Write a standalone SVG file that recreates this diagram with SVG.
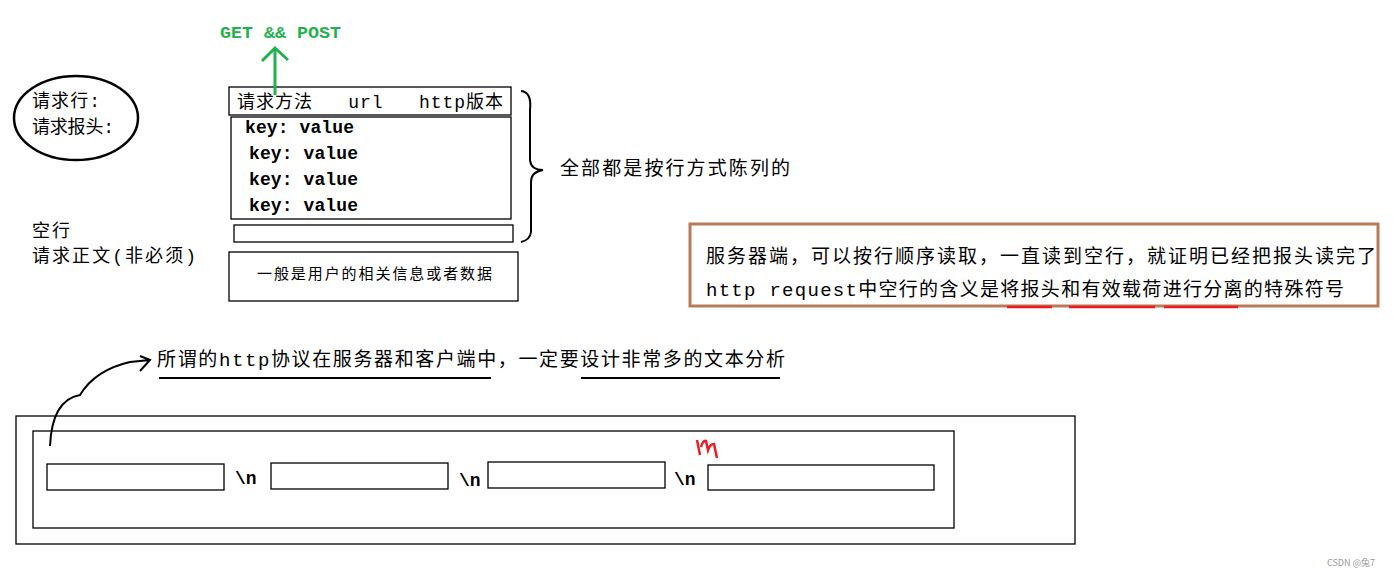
<svg xmlns="http://www.w3.org/2000/svg" width="1394" height="577" viewBox="0 0 1394 577">
<style>
.t{font-family:"Liberation Mono","Noto Sans CJK SC",monospace;fill:#000;font-weight:normal}
.b{fill:none;stroke:#000;stroke-width:1.3}
.ln{fill:none;stroke:#000;stroke-width:2}
</style>
<rect width="1394" height="577" fill="#fff"/>
<g id="method-note">
<text x="220" y="38" class="t" style="fill:#22b14c;font-size:17px;font-weight:bold" textLength="121" lengthAdjust="spacingAndGlyphs">GET &amp;&amp; POST</text>
</g>
<g id="legend">
<ellipse cx="76" cy="118" rx="62" ry="42" fill="none" stroke="#000" stroke-width="2.5"/>
<text x="32" y="107" class="t" style="font-size:18px" textLength="68">请求行:</text>
<text x="32" y="133" class="t" style="font-size:18px" textLength="82">请求报头:</text>
<text x="32" y="237" class="t" style="font-size:18px" textLength="38">空行</text>
<text x="32" y="262" class="t" style="font-size:18px" textLength="164">请求正文(非必须)</text>
</g>
<g id="request-line">
<rect x="229" y="87" width="282" height="28" class="b"/>
<text x="237" y="108" class="t" style="font-size:18px" xml:space="preserve" textLength="266">请求方法   url   http版本</text>
</g>
<g id="headers">
<rect x="231" y="117" width="280" height="102" class="b"/>
<text x="245" y="133" class="t" style="font-size:18px;font-weight:bold" textLength="109">key: value</text>
<text x="249" y="159" class="t" style="font-size:18px;font-weight:bold" textLength="109">key: value</text>
<text x="249" y="185" class="t" style="font-size:18px;font-weight:bold" textLength="109">key: value</text>
<text x="249" y="211" class="t" style="font-size:18px;font-weight:bold" textLength="109">key: value</text>
</g>
<g id="blank-line"><rect x="234" y="225" width="279" height="17" class="b"/></g>
<g id="body">
<rect x="229" y="252" width="289" height="49" class="b"/>
<text x="257" y="279" class="t" style="font-size:15px" textLength="235">一般是用户的相关信息或者数据</text>
</g>
<g id="brace-note">
<text x="560" y="175" class="t" style="font-size:19px" textLength="230">全部都是按行方式陈列的</text>
</g>
<g id="server-note">
<rect x="690" y="224" width="688" height="82" fill="none" stroke="#b97a57" stroke-width="3"/>
<text x="706" y="263" class="t" style="font-size:19px" textLength="670">服务器端，可以按行顺序读取，一直读到空行，就证明已经把报头读完了</text>
<text x="706" y="296" class="t" style="font-size:19px" textLength="638">http request中空行的含义是将报头和有效载荷进行分离的特殊符号</text>
</g>
<g id="protocol-note">
<text x="157" y="366" class="t" style="font-size:19px" textLength="628">所谓的http协议在服务器和客户端中，一定要设计非常多的文本分析</text>
</g>
<g id="stream">
<rect x="16" y="416" width="1059" height="128" class="b"/>
<rect x="33" y="431" width="921" height="97" class="b"/>
<rect x="47" y="464" width="177" height="26" class="b"/>
<rect x="271" y="463" width="177" height="26" class="b"/>
<rect x="488" y="462" width="177" height="26" class="b"/>
<rect x="708" y="465" width="226" height="25" class="b"/>
<text x="235" y="484" class="t" style="font-size:18px;font-weight:bold">\n</text>
<text x="459" y="486" class="t" style="font-size:18px;font-weight:bold">\n</text>
<text x="674" y="485" class="t" style="font-size:18px;font-weight:bold">\n</text>
</g>
<g id="connectors">
<path d="M275 95 V48 M262 61 L275 48 L288 60" fill="none" stroke="#22b14c" stroke-width="3"/>
<path d="M521 91 Q532 92 530 110 L530 160 Q531 170 543 170 Q531 172 531 182 L531 232 Q530 240 521 242" class="ln"/>
<path d="M1007 307 H1052 M1069 307 H1155 M1164 307 H1238" stroke="#ed1c24" stroke-width="2.5" fill="none"/>
<path d="M159 378 H491 M581 378 H780" stroke="#000" stroke-width="2" fill="none"/>
<path d="M50 446 Q52 400 80 395 Q95 370 130 362 L150 360 M140 356 L150 360 L140 371" class="ln"/>
<path d="M697 440 L700 455 M701 447 Q703 440 706 441 L708 450 Q710 444 714 444 L717 458" fill="none" stroke="#ed1c24" stroke-width="2.5"/>
</g>
<text x="1327" y="566" style="font-family:'Noto Sans CJK SC',sans-serif;font-size:9px;fill:#999">CSDN @兔7</text>
</svg>
